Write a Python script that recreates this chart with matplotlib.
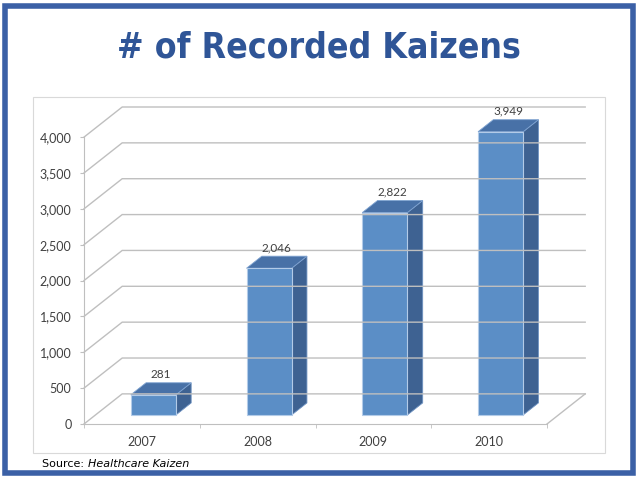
import matplotlib
matplotlib.use("Agg")
import matplotlib.pyplot as plt
from matplotlib.patches import Polygon, Rectangle

# data
years = ["2007", "2008", "2009", "2010"]
kaizens = [281, 2046, 2822, 3949]
yticks = [0, 500, 1000, 1500, 2000, 2500, 3000, 3500, 4000]

# pseudo-3d depth (category units / value units)
DX = 0.33
DY = 420
F1, F2 = 0.3, 0.7     # bar front / back depth fractions
BW = 0.39             # bar width

GRID = "#bfbfbf"
TXT = "#404040"

fig = plt.figure(figsize=(6.38, 4.78), dpi=100)

# slide frame
fig.patches.append(Rectangle((4.5 / 638, 5.5 / 478), 628 / 638, 467 / 478,
                             transform=fig.transFigure, fill=False,
                             edgecolor="#3b60a6", linewidth=4))
# chart box
fig.patches.append(Rectangle((33 / 638, 25 / 478), 572 / 638, 356 / 478,
                             transform=fig.transFigure, fill=False,
                             edgecolor="#d9d9d9", linewidth=0.8))

fig.text(0.5, 1 - 48 / 478, "# of Recorded Kaizens", ha="center", va="center",
         fontsize=25.5, fontweight="bold", color="#2f5597",
         family="DejaVu Sans", fontstretch="condensed")

fig.text(42 / 638, 1 - 464 / 478, "Source: ", ha="left", va="center",
         fontsize=8, color="black", family="DejaVu Sans")
fig.text(88 / 638, 1 - 464 / 478, "Healthcare Kaizen", ha="left", va="center",
         fontsize=8, color="black", family="DejaVu Sans", style="italic")

ax = fig.add_axes([84 / 638, 54 / 478, 501.2 / 638, 317 / 478])
ax.set_xlim(-0.5, 3.5 + DX)
ax.set_ylim(0, yticks[-1] + DY)
ax.patch.set_visible(False)
for s in ["top", "right"]:
    ax.spines[s].set_visible(False)
ax.spines["left"].set_bounds(0, yticks[-1])
ax.spines["bottom"].set_bounds(-0.5, 3.5)
ax.spines["left"].set_color(GRID)
ax.spines["bottom"].set_color(GRID)

ax.set_yticks(yticks)
ax.set_yticklabels([f"{v:,}" for v in yticks])
ax.set_xticks(range(len(years)))
ax.set_xticklabels(years)
ax.set_xticks([i - 0.5 for i in range(len(years) + 1)], minor=True)
ax.tick_params(axis="y", length=3, color=GRID, labelcolor=TXT, labelsize=9, pad=6)
ax.tick_params(axis="x", which="major", length=0, labelcolor=TXT, labelsize=9, pad=9)
ax.tick_params(axis="x", which="minor", length=3, color=GRID)
for lab in ax.get_xticklabels() + ax.get_yticklabels():
    lab.set_family("Lato")

# walls and floor
x0, x1 = -0.5, 3.5
for v in yticks:
    ax.plot([x0, x0 + DX, x1 + DX], [v, v + DY, v + DY], color=GRID, lw=1,
            solid_joinstyle="miter", clip_on=False)
ax.plot([x1, x1 + DX], [0, DY], color=GRID, lw=1, clip_on=False)

# bars
for i, v in enumerate(kaizens):
    l, r = i - BW / 2, i + BW / 2
    a = (F1 * DX, F1 * DY)
    b = (F2 * DX, F2 * DY)
    front = [(l + a[0], a[1]), (r + a[0], a[1]), (r + a[0], a[1] + v), (l + a[0], a[1] + v)]
    top = [(l + a[0], a[1] + v), (r + a[0], a[1] + v), (r + b[0], b[1] + v), (l + b[0], b[1] + v)]
    side = [(r + a[0], a[1]), (r + b[0], b[1]), (r + b[0], b[1] + v), (r + a[0], a[1] + v)]
    ax.add_patch(Polygon(side, closed=True, facecolor="#3e6292", edgecolor="#6f93c2", lw=0.6, clip_on=False))
    ax.add_patch(Polygon(top, closed=True, facecolor="#4871a7", edgecolor="#7fa3d1", lw=0.6, clip_on=False))
    ax.add_patch(Polygon(front, closed=True, facecolor="#5b8ec6", edgecolor="#b3cbe8", lw=0.8, clip_on=False))
    ax.annotate(f"{v:,}", (i + 0.5 * (F1 + F2) * DX, b[1] + v), xytext=(0, 2),
                textcoords="offset points", ha="center", va="bottom",
                fontsize=8.5, color=TXT, family="Lato")

fig.savefig("out.png", dpi=100)
